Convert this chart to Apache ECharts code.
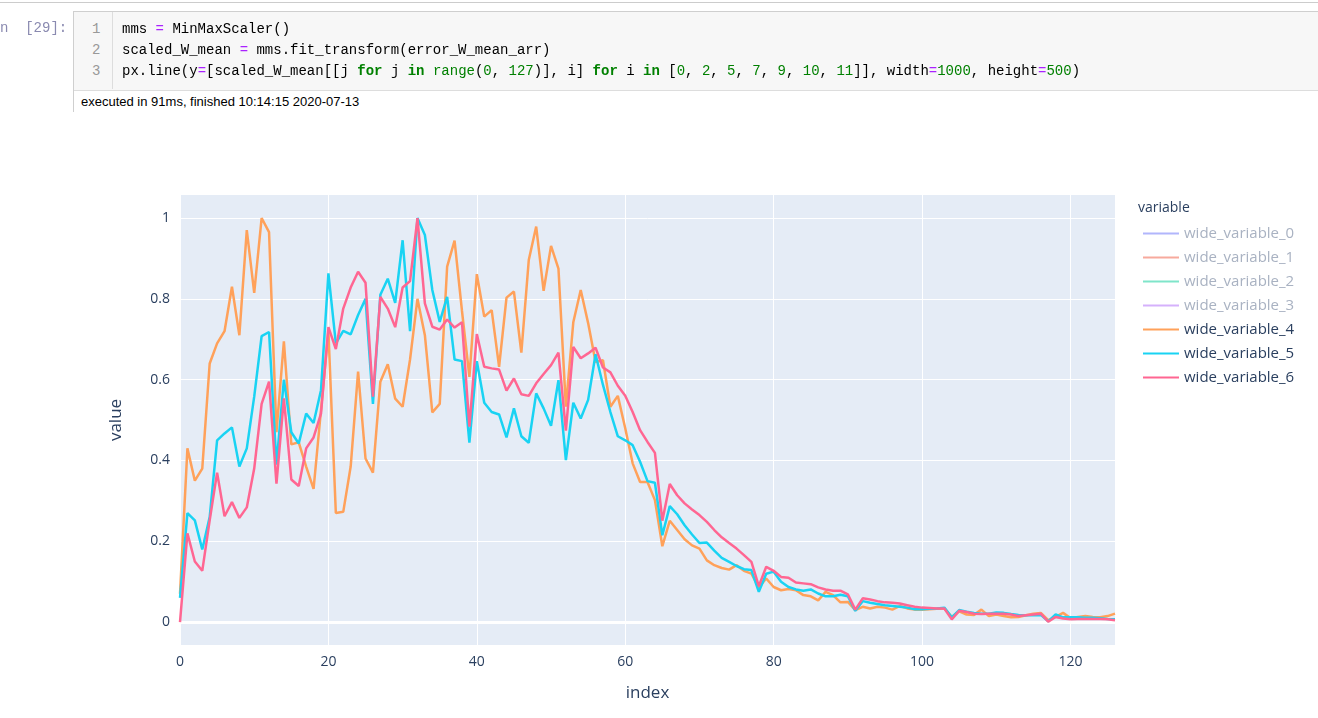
<!DOCTYPE html>
<html><head><meta charset="utf-8">
<script src="https://cdn.jsdelivr.net/npm/echarts@6/dist/echarts.min.js"></script>
<style>
body{margin:0;width:1318px;height:718px;background:#fff;overflow:hidden;font-family:"Liberation Sans",Arial,sans-serif;position:relative}
#topline{position:absolute;left:0;top:2px;width:1318px;height:1px;background:#ccc}
#prompt{position:absolute;left:0;top:20px;font-family:"Liberation Mono",monospace;font-size:14px;color:#8a8ab0}
#cell{position:absolute;left:73px;top:11px;width:1245px;height:101px;border:1px solid #cfcfcf;border-right:none;background:#f7f7f7;box-sizing:border-box}
#gutter{position:absolute;left:0;top:0;width:38px;height:77px;border-right:1px solid #ddd;background:#f7f7f7}
.ln{position:absolute;left:18px;font-family:"Liberation Mono",monospace;font-size:14px;color:#999}
.code{position:absolute;left:48px;font-family:"Liberation Mono",monospace;font-size:14px;color:#000;white-space:pre}
#exec{position:absolute;left:0;top:78px;width:100%;height:22px;border-top:1px solid #ddd;background:#fff;font-size:13px;color:#000;padding-left:7px;line-height:22px;box-sizing:border-box}
.k{color:#008000;font-weight:bold}.o{color:#AA22FF}.n{color:#008000}.b{color:#008000}
#chart{position:absolute;left:0;top:0;width:1318px;height:718px}
</style></head><body>
<div id="chart"></div>
<div id="topline"></div>
<div id="prompt">n&nbsp;&nbsp;[29]:</div>
<div id="cell">
 <div id="gutter"></div>
 <div class="ln" style="top:9px">1</div><div class="ln" style="top:30px">2</div><div class="ln" style="top:51px">3</div>
 <div class="code" style="top:9px">mms <span class="o">=</span> MinMaxScaler()</div>
 <div class="code" style="top:30px">scaled_W_mean <span class="o">=</span> mms.fit_transform(error_W_mean_arr)</div>
 <div class="code" style="top:51px">px.line(y<span class="o">=</span>[scaled_W_mean[[j <span class="k">for</span> j <span class="k">in</span> <span class="b">range</span>(<span class="n">0</span>, <span class="n">127</span>)], i] <span class="k">for</span> i <span class="k">in</span> [<span class="n">0</span>, <span class="n">2</span>, <span class="n">5</span>, <span class="n">7</span>, <span class="n">9</span>, <span class="n">10</span>, <span class="n">11</span>]], width<span class="o">=</span><span class="n">1000</span>, height<span class="o">=</span><span class="n">500</span>)</div>
 <div id="exec">executed in 91ms, finished 10:14:15 2020-07-13</div>
</div>
<script>
const seriesNames=["wide_variable_0","wide_variable_1","wide_variable_2","wide_variable_3","wide_variable_4","wide_variable_5","wide_variable_6"];
const seriesColors=["#636EFA","#EF553B","#00CC96","#AB63FA","#FFA15A","#19D3F3","#FF6692"];
const yTicks=[0,0.2,0.4,0.6,0.8,1];
const v4=[0.07,0.43,0.35,0.38,0.64,0.69,0.72,0.83,0.71,0.97,0.815,1.0,0.965,0.47,0.695,0.44,0.445,0.385,0.33,0.525,0.72,0.27,0.273,0.385,0.62,0.405,0.37,0.595,0.638,0.553,0.533,0.65,0.80,0.71,0.519,0.54,0.88,0.944,0.77,0.607,0.861,0.756,0.772,0.632,0.803,0.818,0.667,0.896,0.979,0.82,0.931,0.875,0.533,0.742,0.822,0.74,0.644,0.648,0.533,0.56,0.48,0.393,0.347,0.347,0.302,0.188,0.251,0.228,0.205,0.19,0.182,0.153,0.141,0.134,0.13,0.141,0.127,0.12,0.086,0.108,0.087,0.079,0.082,0.079,0.067,0.064,0.054,0.075,0.067,0.049,0.05,0.03,0.038,0.034,0.038,0.036,0.031,0.04,0.034,0.031,0.031,0.032,0.033,0.034,0.013,0.027,0.019,0.018,0.031,0.015,0.019,0.015,0.012,0.013,0.017,0.021,0.023,0.005,0.013,0.023,0.01,0.013,0.015,0.013,0.012,0.015,0.021];
const v5=[0.06,0.27,0.252,0.18,0.26,0.45,0.467,0.482,0.385,0.43,0.558,0.708,0.718,0.39,0.60,0.47,0.442,0.516,0.493,0.574,0.863,0.69,0.721,0.712,0.76,0.80,0.54,0.81,0.85,0.79,0.945,0.72,1.0,0.958,0.822,0.743,0.805,0.65,0.646,0.444,0.646,0.543,0.52,0.514,0.457,0.529,0.46,0.444,0.566,0.529,0.486,0.599,0.401,0.543,0.504,0.55,0.663,0.587,0.52,0.46,0.45,0.438,0.397,0.349,0.345,0.215,0.287,0.267,0.24,0.217,0.196,0.197,0.177,0.159,0.149,0.139,0.131,0.129,0.075,0.12,0.125,0.1,0.087,0.081,0.078,0.081,0.071,0.064,0.064,0.068,0.064,0.028,0.052,0.048,0.045,0.042,0.04,0.038,0.036,0.032,0.032,0.033,0.034,0.036,0.012,0.03,0.026,0.023,0.021,0.021,0.024,0.023,0.020,0.018,0.017,0.017,0.018,0.002,0.019,0.012,0.012,0.012,0.011,0.011,0.010,0.008,0.007];
const v6=[0.0,0.22,0.15,0.127,0.252,0.37,0.262,0.297,0.258,0.284,0.38,0.54,0.595,0.343,0.554,0.353,0.337,0.43,0.457,0.516,0.73,0.676,0.776,0.828,0.867,0.84,0.558,0.805,0.776,0.73,0.828,0.844,1.0,0.789,0.731,0.724,0.749,0.729,0.742,0.484,0.713,0.632,0.628,0.625,0.573,0.603,0.564,0.56,0.591,0.614,0.636,0.667,0.474,0.681,0.653,0.665,0.679,0.63,0.618,0.585,0.56,0.52,0.475,0.446,0.419,0.251,0.342,0.314,0.294,0.279,0.265,0.248,0.228,0.21,0.196,0.182,0.166,0.149,0.089,0.137,0.127,0.112,0.11,0.098,0.096,0.094,0.086,0.081,0.078,0.078,0.069,0.031,0.059,0.056,0.052,0.049,0.048,0.046,0.042,0.038,0.036,0.035,0.034,0.034,0.007,0.028,0.025,0.021,0.02,0.021,0.021,0.021,0.019,0.015,0.017,0.019,0.021,0.001,0.013,0.009,0.007,0.008,0.008,0.008,0.008,0.007,0.005];
const index=v4.map((_,i)=>i);
const values=[[],[],[],[],v4,v5,v6];

const chart=echarts.init(document.getElementById('chart'));
chart.setOption({
  animation:false,
  backgroundColor:'transparent',
  grid:{left:180,right:203,top:195,bottom:73,show:true,backgroundColor:'#E5ECF6',borderWidth:0},
  xAxis:{type:'value',min:0,max:126,interval:20,
    axisLine:{show:false},axisTick:{show:false},
    axisLabel:{color:'#2a3f5f',fontSize:14,fontFamily:'Open Sans',margin:10,showMaxLabel:false},
    splitLine:{lineStyle:{color:'#fff',width:1}},
    name:'index',nameLocation:'middle',nameGap:40,nameTextStyle:{color:'#2a3f5f',fontSize:17,fontFamily:'Open Sans'}},
  yAxis:{type:'value',min:-0.0565,max:1.057,
    axisLine:{show:false},axisTick:{show:false},
    axisLabel:{show:false},splitLine:{show:false},
    name:'value',nameLocation:'middle',nameGap:55,nameTextStyle:{color:'#2a3f5f',fontSize:17,fontFamily:'Open Sans'}},
  legend:{orient:'vertical',left:1138,top:221,itemGap:9,itemWidth:36,itemHeight:14,
    icon:'path://M0,0 L36,0 L36,2 L0,2 Z',
    textStyle:{fontSize:15,fontFamily:'Open Sans',color:'#2a3f5f',padding:[0,0,0,0]},
    selectedMode:false,
    data:seriesNames.map((n,i)=>({name:n,itemStyle:{color:seriesColors[i],opacity:i<4?0.5:1},
      textStyle:{color:i<4?'#a9b2c2':'#2a3f5f'}}))},
  graphic:[{type:'text',left:1138,top:201,style:{text:'variable',fontSize:14,fontFamily:'Open Sans',fill:'#2a3f5f'}}],
  series:[
    ...seriesNames.map((n,k)=>({name:n,type:'line',showSymbol:false,symbol:'none',
      data:values[k].map((v,i)=>[index[i],v]),
      lineStyle:{width:2.5,color:seriesColors[k]},itemStyle:{color:seriesColors[k]},z:3+k})),
    {name:'_grid',type:'line',data:[],silent:true,
     markLine:{silent:true,symbol:'none',label:{show:true,position:'start',formatter:p=>String(p.value),color:'#2a3f5f',fontSize:14,fontFamily:'Open Sans',distance:10},
       data:yTicks.map(t=>({yAxis:t,lineStyle:{color:'#fff',width:t===0?3:1,type:'solid'}}))},z:1}
  ]
});
</script></body></html>
